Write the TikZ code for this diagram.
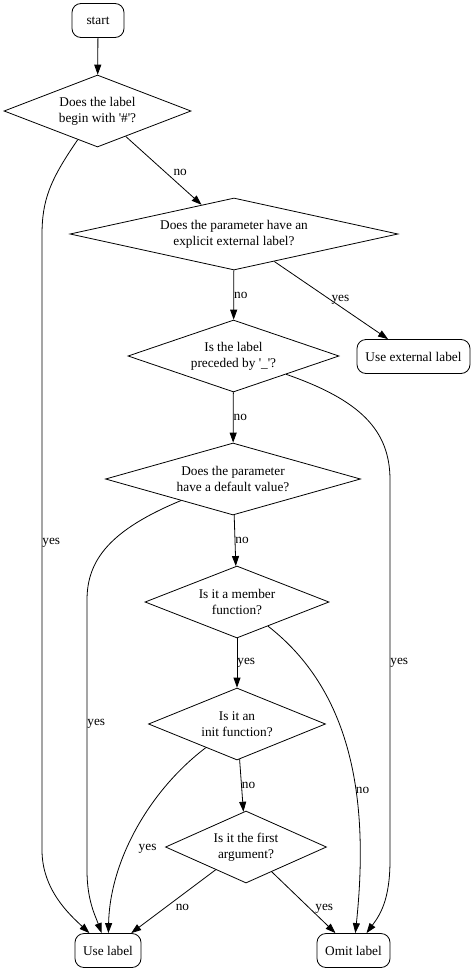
\documentclass[tikz,border=0pt]{standalone}
\usepackage{fontspec}
\setmainfont{Liberation Serif}
\usetikzlibrary{shapes.geometric,arrows.meta}
\newcommand{\q}{\textquotesingle}
\begin{document}
\begin{tikzpicture}[x=1pt,y=-1pt,line width=0.8pt,
    >={Triangle[length=10pt,width=7pt]},
    every node/.style={font=\fontsize{13.3}{16}\selectfont},
    term/.style={draw,rounded corners=9pt,minimum height=34pt,inner sep=0pt},
    quest/.style={draw,diamond,align=center,inner sep=0pt},
    lbl/.style={inner sep=0pt}]
\useasboundingbox (0,0) rectangle (474,972);

         \node [term,minimum width=52pt]  (S)  at (98,20.5)   {start};
         \node [quest,minimum width=187pt,minimum height=72pt,aspect=2.6] (Q1) at (97.5,111) {Does the label\\begin with \q\#\q?};
         \node [quest,minimum width=328pt,minimum height=72pt,aspect=4.5] (Q2) at (234,234) {Does the parameter have an\\explicit external label?};
         \node [term,minimum width=113pt] (E)  at (413.5,356.5) {Use external label};
         \node [quest,minimum width=211pt,minimum height=72pt,aspect=2.9] (Q3) at (233.5,356) {Is the label\\preceded by \q\_\q?};
         \node [quest,minimum width=255pt,minimum height=72pt,aspect=3.5] (Q4) at (233,479) {Does the parameter\\have a default value?};
         \node [quest,minimum width=184pt,minimum height=72pt,aspect=2.5] (Q5) at (237,602) {Is it a member\\function?};
         \node [quest,minimum width=177pt,minimum height=72pt,aspect=2.4] (Q6) at (237,724) {Is it an\\init function?};
         \node [quest,minimum width=161pt,minimum height=72pt,aspect=2.2] (Q7) at (246,847) {Is it the first\\argument?};
         \node [term,minimum width=66pt]  (U)  at (108,950.5)  {Use label};
         \node [term,minimum width=73pt]  (O)  at (353.5,950.5) {Omit label};

         \draw [->] (S) -- (Q1);
         \draw [->] (Q1) -- node[lbl,pos=0.52,right=8pt]{no} (Q2);
         \draw [->] (Q2) -- node[lbl,right]{no} (Q3);
         \draw [->] (Q2) -- node[lbl,right]{yes} (E);
         \draw [->] (Q3) -- node[lbl,right]{no} (Q4);
         \draw [->] (Q4) -- node[lbl,right]{no} (Q5);
         \draw [->] (Q5) -- node[lbl,right]{yes} (Q6);
         \draw [->] (Q6) -- node[lbl,right]{no} (Q7);
         \draw [->] (Q7) -- node[lbl,below right=2pt]{no} (U);
         \draw [->] (Q7) -- node[lbl,pos=0.6,right=5pt]{yes} (O);

         % long branches
         \draw [->] (Q1) .. controls (50,180) and (42,200) .. (42,235)
                    -- node[lbl,right]{yes} (42,850) .. controls (42,890) and (70,915) .. (U);
         \draw [->] (Q4) .. controls (110,530) and (87,560) .. (87,600)
                    -- node[lbl,pos=0.46,right]{yes} (87,870) .. controls (87,900) and (95,915) .. (U);
         \draw [->] (Q6) .. controls (150,790) and (110,860) .. node[lbl,pos=0.6,right=11pt]{yes} (U);
         \draw [->] (Q3) .. controls (360,400) and (390,430) .. (390,480)
                    -- node[lbl,pos=0.48,right]{yes} (390,860) .. controls (390,900) and (380,915) .. (O);
         \draw [->] (Q5) .. controls (350,690) and (370,795) .. node[lbl,pos=0.62,right]{no} (O);

\end{tikzpicture}
\end{document}
